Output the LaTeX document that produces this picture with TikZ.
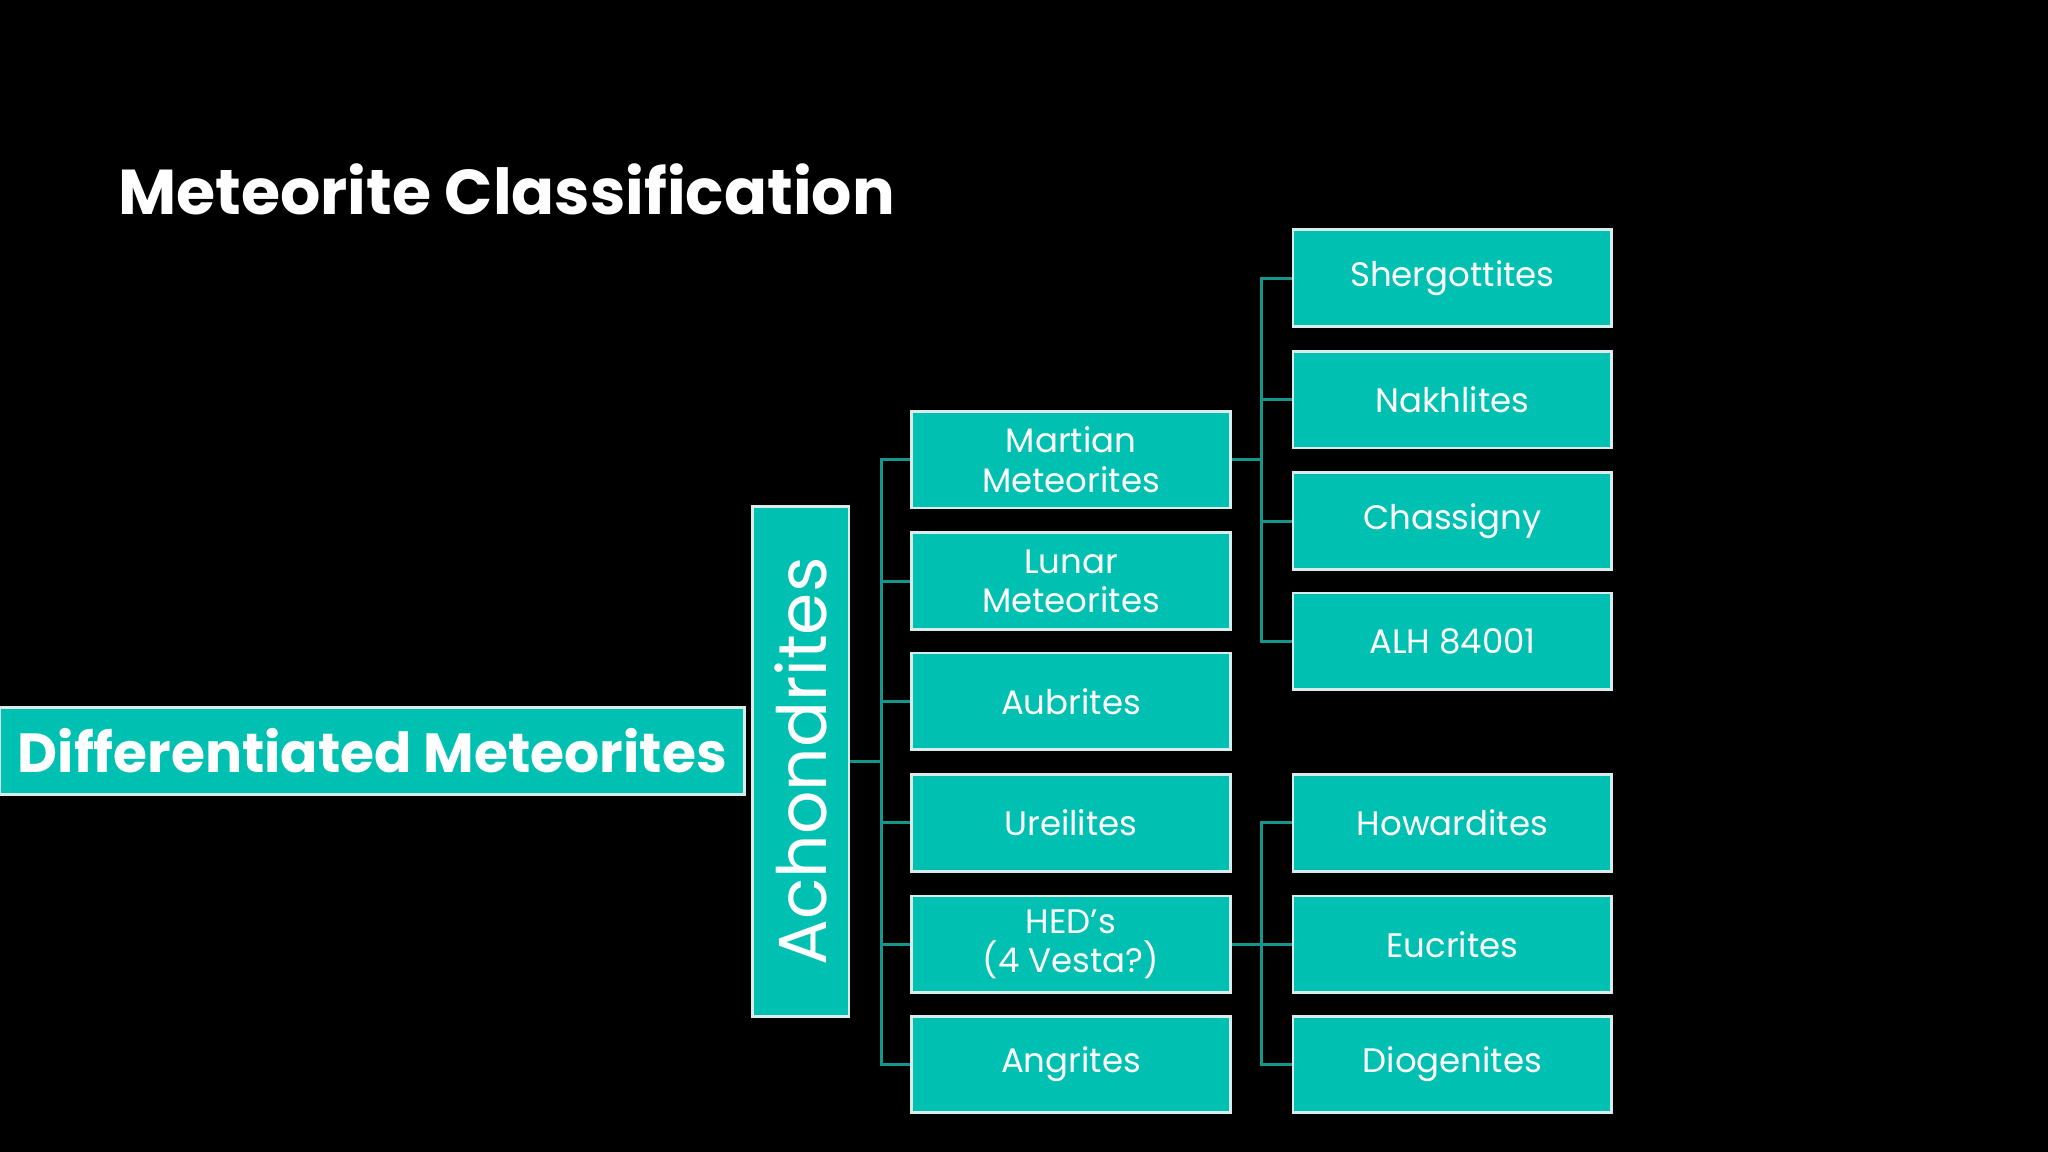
\documentclass[tikz,border=0pt]{standalone}
\usepackage{fontspec}
\setmainfont{Poppins}
\begin{document}
\begin{tikzpicture}[x=0.01cm,y=-0.01cm,
  box/.style={draw=white!85!teal,line width=0.6pt,fill=teal0,text=white,minimum width=2.44cm,minimum height=0.74cm,inner sep=0pt,align=center,font=\fontsize{7.4}{8.6}\selectfont},
  conn/.style={draw=teal1,line width=0.6pt}]
\definecolor{teal0}{HTML}{00C1B1}
\definecolor{teal1}{HTML}{13978C}
\fill[black] (0,0) rectangle (1568,882);
\useasboundingbox (0,0) rectangle (1568,882);
\node[anchor=base west,text=white,font=\fontsize{13.8}{15}\selectfont\bfseries,inner sep=0pt] (title) at (90,164) {Meteorite Classification};
\node[box,minimum width=5.7cm,minimum height=0.67cm,font=\fontsize{12}{13}\selectfont\bfseries] (diff) at (285,575) {Differentiated Meteorites};
\node[box,minimum width=0.74cm,minimum height=3.9cm] (ach) at (613,583) {};
\node[text=white,rotate=90,font=\fontsize{14.8}{16}\selectfont,inner sep=0pt] (achl) at (613,583) {Achondrites};
\node[box] (m1) at (820,352) {Martian\\Meteorites};
\node[box] (m2) at (820,445) {Lunar\\Meteorites};
\node[box] (m3) at (820,537) {Aubrites};
\node[box] (m4) at (820,630) {Ureilites};
\node[box] (m5) at (820,723) {HED’s\\(4 Vesta?)};
\node[box] (m6) at (820,815) {Angrites};
\node[box] (r1) at (1112,213) {Shergottites};
\node[box] (r2) at (1112,306) {Nakhlites};
\node[box] (r3) at (1112,399) {Chassigny};
\node[box] (r4) at (1112,491) {ALH 84001};
\node[box] (r5) at (1112,630) {Howardites};
\node[box] (r6) at (1112,723) {Eucrites};
\node[box] (r7) at (1112,815) {Diogenites};
\draw[conn] (ach.east) -- (675,583);
\foreach \n in {m1,m2,m3,m4,m5,m6} \draw[conn] (675,583) |- (\n.west);
\foreach \n in {r1,r2,r3,r4} \draw[conn] (m1.east) -- (966,352) |- (\n.west);
\foreach \n in {r5,r6,r7} \draw[conn] (m5.east) -- (966,723) |- (\n.west);
\end{tikzpicture}
\end{document}
